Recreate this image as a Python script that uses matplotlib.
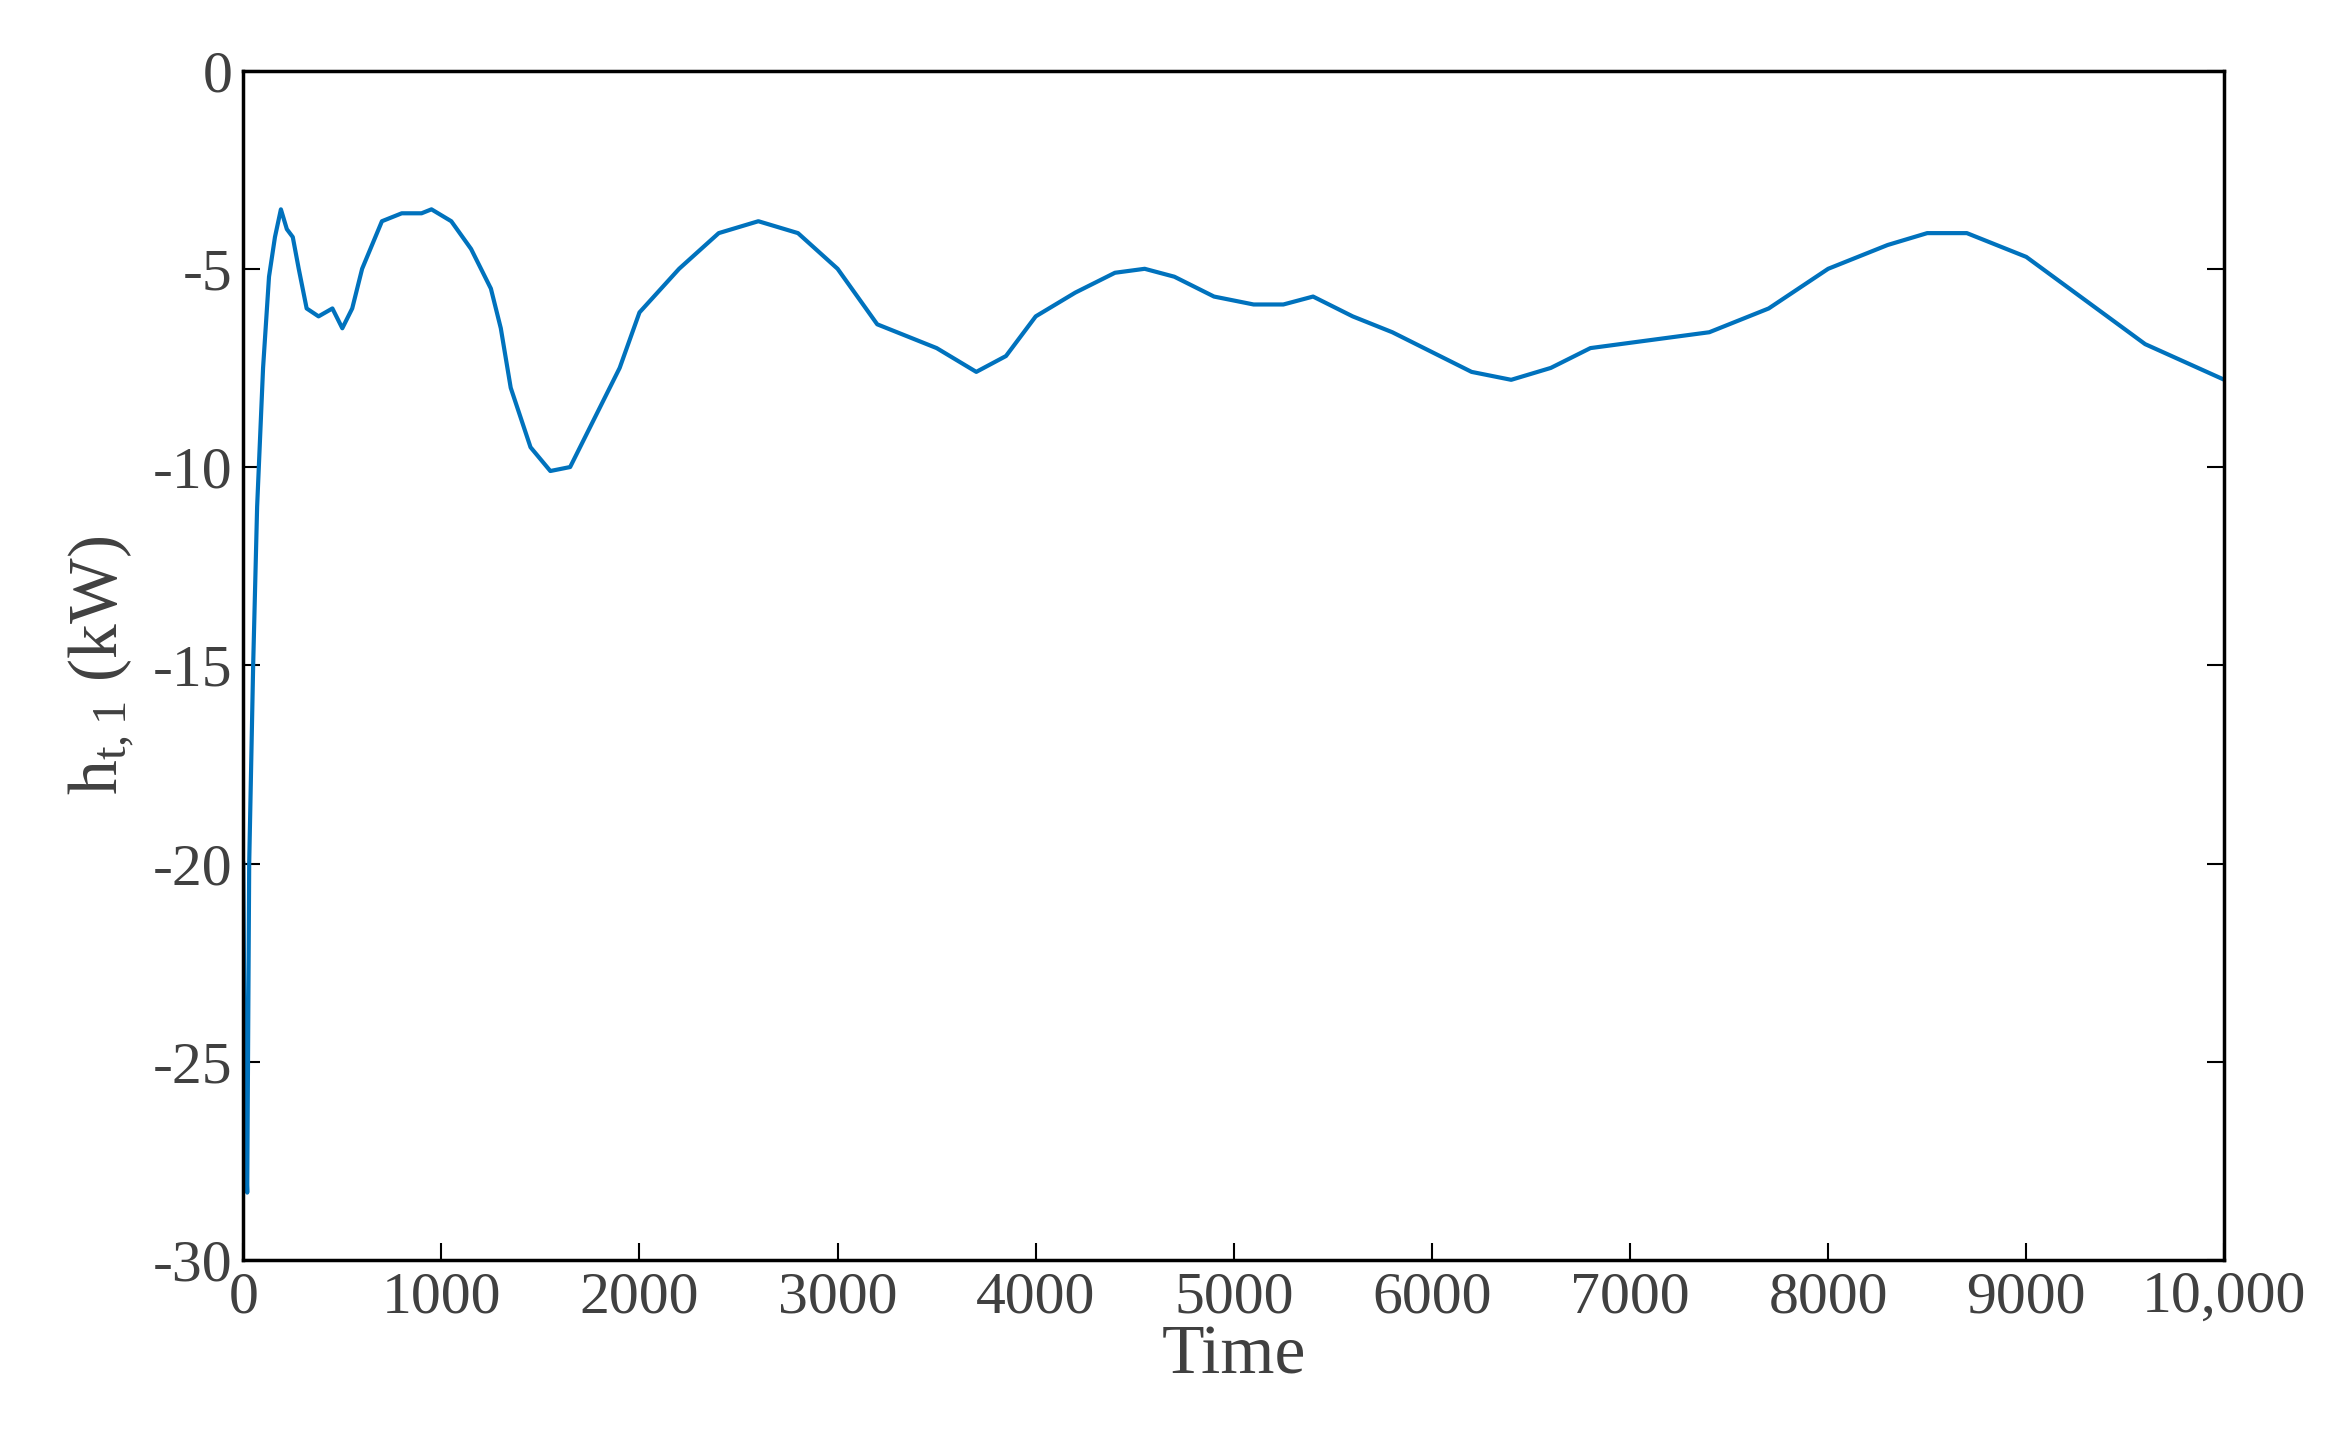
import matplotlib
matplotlib.use("Agg")
import matplotlib.pyplot as plt

t = [0,10,20,30,50,70,100,130,160,190,220,250,280,320,380,450,500,550,600,700,800,900,950,1050,1150,1250,1300,1350,1450,1550,1650,1750,1900,2000,2200,2400,2600,2800,3000,3200,3500,3700,3850,4000,4200,4400,4550,4700,4900,5100,5250,5400,5600,5800,6000,6200,6400,6600,6800,7100,7400,7700,8000,8300,8500,8700,9000,9300,9600,10000]
h = [-20,-27,-28.3,-20,-15,-11,-7.5,-5.2,-4.2,-3.5,-4.0,-4.2,-5.0,-6.0,-6.2,-6.0,-6.5,-6.0,-5.0,-3.8,-3.6,-3.6,-3.5,-3.8,-4.5,-5.5,-6.5,-8.0,-9.5,-10.1,-10.0,-9.0,-7.5,-6.1,-5.0,-4.1,-3.8,-4.1,-5.0,-6.4,-7.0,-7.6,-7.2,-6.2,-5.6,-5.1,-5.0,-5.2,-5.7,-5.9,-5.9,-5.7,-6.2,-6.6,-7.1,-7.6,-7.8,-7.5,-7.0,-6.8,-6.6,-6.0,-5.0,-4.4,-4.1,-4.1,-4.7,-5.8,-6.9,-7.8]
xticks = [0,1000,2000,3000,4000,5000,6000,7000,8000,9000,10000]
xticklabels = ["0","1000","2000","3000","4000","5000","6000","7000","8000","9000","10,000"]
yticks = [0,-5,-10,-15,-20,-25,-30]

plt.rcParams['font.family'] = ['Liberation Serif', 'DejaVu Serif']
plt.rcParams['mathtext.fontset'] = 'custom'
plt.rcParams['mathtext.rm'] = 'Liberation Serif'
plt.rcParams['axes.unicode_minus'] = False
fig = plt.figure(figsize=(23.39, 14.4), dpi=100)
ax = fig.add_axes([0.104, 0.125, 0.847, 0.826])
ax.plot(t, h, color='#0072BD', lw=3)
ax.set_xlim(0, 10000)
ax.set_ylim(-30, 0)
ax.set_xticks(xticks)
ax.set_xticklabels(xticklabels)
ax.set_yticks(yticks)
ax.tick_params(direction='in', length=12, width=1.5, top=False, right=True,
               labelsize=43, labelcolor='#404040', pad=8)
for s in ax.spines.values():
    s.set_linewidth(2.5)
ax.set_xlabel('Time', fontsize=50, color='#404040', labelpad=0)
ax.set_ylabel('h$\\mathregular{_{t,1}}$ (kW)', fontsize=50, color='#404040', labelpad=12)
fig.savefig('out.png', dpi=100)
